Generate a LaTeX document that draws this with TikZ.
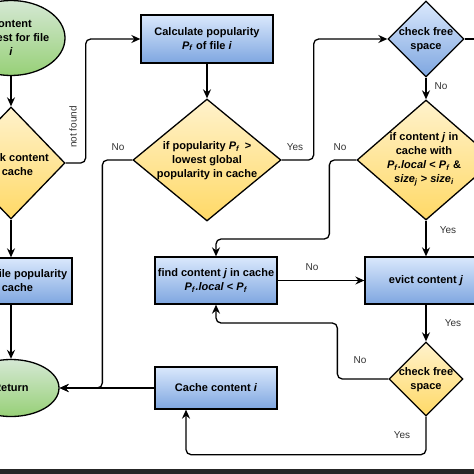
\documentclass[tikz,border=0pt]{standalone}
\usepackage{fontspec}
\setmainfont{Liberation Sans}
\usepackage{tikz}
\usetikzlibrary{arrows.meta}
\usetikzlibrary{shapes,backgrounds}
\usetikzlibrary{positioning}
\usetikzlibrary{calc}

\definecolor{bluetop}{HTML}{DAE8FC}
\definecolor{bluebot}{HTML}{7EA6E0}
\definecolor{yeltop}{HTML}{FFF2CC}
\definecolor{yelbot}{HTML}{FFD966}
\definecolor{grntop}{HTML}{D5E8D4}
\definecolor{grnbot}{HTML}{97D077}
\definecolor{lblgray}{HTML}{333333}

\newcommand{\Pf}{\textit{P}\textsubscript{\textit{f}}}
\newcommand{\sz}[1]{\textit{size}\textsubscript{\textit{#1}}}

\tikzset{
	procbox/.style={draw,line width=1.3pt,top color=bluetop,bottom color=bluebot,inner sep=0pt,align=center,font=\bfseries\fontsize{11}{14}\selectfont},
	decide/.style={draw,diamond,line width=1.3pt,top color=yeltop,bottom color=yelbot,inner sep=0pt},
	bluedecide/.style={decide,top color=bluetop,bottom color=bluebot},
	term/.style={draw,ellipse,line width=1.3pt,top color=grntop,bottom color=grnbot,inner sep=0pt,align=center,font=\bfseries\fontsize{11}{14}\selectfont},
	dtext/.style={align=center,inner sep=0pt,font=\bfseries\fontsize{11}{14}\selectfont},
	lbl/.style={text=lblgray,inner sep=0pt,font=\fontsize{10}{12}\selectfont},
	flow/.style={line width=1.3pt,rounded corners=5pt,-{Stealth[length=9pt,width=8pt,inset=3pt]}},
	plain/.style={line width=1.3pt,rounded corners=5pt}
}

\begin{document}
\begin{tikzpicture}[x=1pt,y=-1pt]
	\useasboundingbox (0,0) rectangle (474,474);
	\clip (0,0) rectangle (474,474);
	% left column
	\node[term,minimum width=84pt,minimum height=75pt](req) at (11,38){Content\\request for file\\\textit{i}};
	\node[decide,minimum width=108pt,minimum height=112pt](chk) at (11,163){};
	\node[dtext](chkT) at (11,165){Check content\\in cache};
	\node[procbox,minimum width=122pt,minimum height=46pt](upd) at (11,281){Update file popularity\\in cache};
	\node[term,minimum width=96pt,minimum height=57pt](ret) at (11,388){Return};
	% middle column
	\node[procbox,minimum width=132pt,minimum height=48pt](calc) at (207,39){Calculate popularity\\\Pf{} of file \textit{i}};
	\node[decide,minimum width=148pt,minimum height=122pt](pop) at (207,160){};
	\node[dtext](popT) at (207,161){if popularity \Pf{} \,>\\lowest global\\popularity in cache};
	\node[procbox,minimum width=122pt,minimum height=47pt](find) at (216,280.5){find content \textit{j} in cache\\\Pf\textit{.local} < \Pf};
	\node[procbox,minimum width=122pt,minimum height=42pt](cache) at (216,388){Cache content \textit{i}};
	% right column
	\node[bluedecide,minimum width=76pt,minimum height=76pt](free1) at (426,39){};
	\node[dtext](free1T) at (426,40){check free\\space};
	\node[decide,minimum width=138pt,minimum height=120pt](cond) at (426,160){};
	\node[dtext](condT) at (424,159){if content \textit{j} in\\cache with\\\Pf\textit{.local} < \Pf{} \&\\\sz{j} > \sz{i}};
	\node[procbox,minimum width=122pt,minimum height=47pt](evict) at (426,280.5){evict content \textit{j}};
	\node[decide,minimum width=74pt,minimum height=74pt](free2) at (426,379){};
	\node[dtext](free2T) at (426,380){check free\\space};
	\coordinate (offr) at (480,39);
	% connectors
	\draw[flow] (req) -- (chk);
	\draw[flow] (chk) -- (upd);
	\draw[flow] (upd) -- (ret);
	\draw[flow] (chk.east) -- ++(20,0) |- (calc.west);
	\draw[flow] (calc) -- (pop);
	\draw[flow] (pop.east) -- ++(32,0) |- (free1.west);
	\draw[flow] (pop.west) -- ++(-30,0) |- (ret.east);
	\draw[plain] (free1.east) -- (offr);
	\draw[flow] (free1) -- (cond);
	\draw[flow] (cond.west) -- ++(-27,0) -- ++(0,79) -| (find.north);
	\draw[flow] (cond) -- (evict);
	\draw[flow] (find.east) -- (evict.west);
	\draw[flow] (evict) -- (free2);
	\draw[flow] (free2.west) -- ++(-51,0) -- ++(0,-56) -| (find.south);
	\draw[flow] (free2.south) -- ++(0,38) -| ([xshift=-30pt]cache.south);
	\draw[flow] (cache.west) -- (ret.east);
	% labels
	\node[lbl,rotate=90](lNf) at (73,127){not found};
	\node[lbl](lNo1) at (118,147){No};
	\node[lbl](lYes1) at (295,147){Yes};
	\node[lbl](lNo2) at (441,86){No};
	\node[lbl](lNo3) at (340,147){No};
	\node[lbl](lYes2) at (448,230){Yes};
	\node[lbl](lNo4) at (312,267){No};
	\node[lbl](lYes3) at (453,323){Yes};
	\node[lbl](lNo5) at (360,360){No};
	\node[lbl](lYes4) at (402,435){Yes};
	% bottom bar
	\fill[black!85] (0,469) rectangle (474,474);
\end{tikzpicture}
\end{document}
